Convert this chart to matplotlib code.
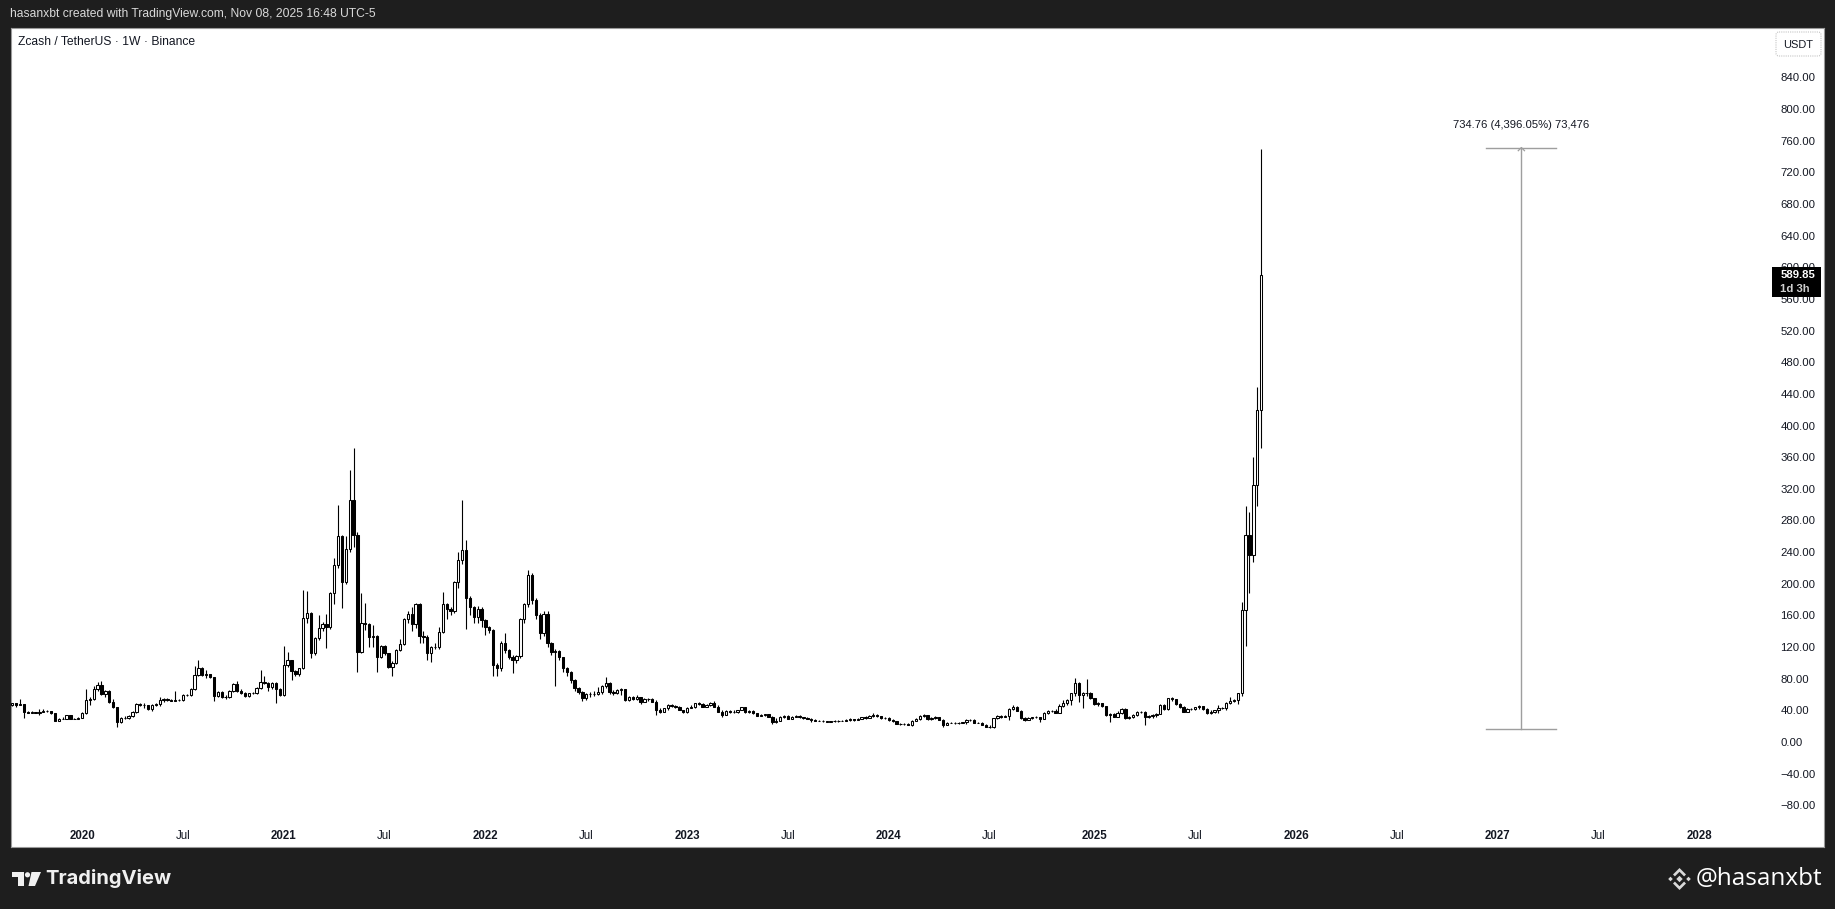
import numpy as np
import pandas as pd
import matplotlib
matplotlib.use("Agg")
import matplotlib.pyplot as plt
from matplotlib.patches import FancyBboxPatch, Polygon, Circle, Rectangle
import matplotlib.transforms as mtransforms

plt.rcParams['font.family'] = ['Liberation Sans', 'DejaVu Sans']

# ---------------- data (weekly ZEC/USDT, first candle week of 2019-09-02) ----------------
first_week = "2019-09-02"

opens = [
    46.5, 48.8, 47.0, 48.0, 38.3, 37.0, 37.5, 37.2, 37.9, 39.0,
    38.7, 36.2, 27.0, 29.0, 29.5, 33.7, 29.5, 29.5, 30.5, 36.2,
    52.6, 54.7, 66.5, 71.5, 60.6, 64.4, 50.1, 43.8, 25.7, 29.9,
    30.5, 32.8, 37.9, 47.6, 47.0, 46.3, 41.2, 46.3, 47.5, 52.6,
    53.9, 53.0, 52.2, 52.5, 53.0, 58.9, 59.3, 66.9, 84.2, 93.4,
    85.0, 85.9, 81.6, 58.1, 63.6, 56.8, 57.2, 64.4, 73.7, 65.0,
    62.3, 58.1, 61.9, 61.5, 68.6, 75.3, 75.0, 69.4, 74.5, 67.3,
    59.3, 96.8, 103.1, 90.1, 85.9, 93.0, 156.1, 162.5, 112.0, 130.9,
    143.5, 148.6, 144.8, 187.7, 223.5, 260.1, 202.4, 243.3, 305.6, 262.2,
    114.1, 149.8, 149.0, 133.0, 133.8, 107.7, 121.2, 112.0, 94.3, 100.2,
    116.2, 123.3, 155.3, 161.6, 148.6, 174.2, 133.5, 132.2, 112.0, 119.5,
    120.0, 139.3, 174.2, 167.5, 165.0, 201.6, 229.8, 242.4, 182.2, 170.0,
    158.2, 167.5, 154.0, 144.8, 141.5, 97.5, 93.0, 125.4, 116.5, 108.0,
    103.5, 108.6, 154.9, 173.8, 211.0, 180.0, 161.0, 137.2, 161.6, 124.6,
    114.1, 115.3, 106.9, 93.0, 88.5, 78.3, 68.0, 63.6, 55.1, 60.6,
    60.0, 60.6, 63.0, 70.7, 74.1, 63.5, 61.4, 65.7, 66.5, 53.0,
    57.2, 53.9, 56.4, 50.9, 54.3, 54.0, 50.9, 40.4, 38.3, 42.5,
    46.7, 45.9, 44.6, 40.4, 37.5, 43.3, 44.6, 48.8, 48.0, 44.6,
    46.7, 49.7, 44.6, 38.3, 34.1, 39.6, 37.5, 38.3, 40.4, 43.7,
    37.5, 39.6, 36.2, 33.2, 33.8, 34.9, 32.0, 24.8, 27.0, 32.0,
    33.2, 29.0, 32.0, 32.5, 31.0, 30.5, 29.5, 27.5, 27.0, 26.8,
    26.0, 25.5, 26.5, 26.0, 27.0, 26.5, 27.5, 28.5, 28.0, 29.5,
    31.0, 30.5, 32.5, 34.0, 32.5, 30.0, 30.5, 28.0, 26.5, 23.0,
    22.7, 23.0, 21.9, 26.9, 29.5, 32.8, 34.1, 28.6, 29.9, 31.1,
    27.8, 21.5, 24.4, 24.2, 23.6, 24.0, 24.8, 27.8, 27.5, 24.4,
    24.2, 21.5, 19.4, 18.5, 29.9, 32.8, 32.0, 32.5, 41.7, 44.6,
    39.6, 29.9, 27.8, 30.3, 31.1, 31.1, 29.5, 37.0, 39.6, 39.1,
    37.0, 45.5, 48.8, 53.0, 61.4, 74.1, 59.3, 61.4, 62.3, 55.1,
    48.0, 48.8, 45.5, 34.1, 35.4, 32.0, 37.0, 41.7, 29.9, 32.0,
    34.1, 38.3, 37.5, 31.1, 32.8, 33.5, 35.4, 46.7, 41.7, 55.1,
    53.9, 48.0, 43.8, 38.3, 41.7, 41.7, 43.8, 45.5, 41.7, 36.2,
    38.0, 40.4, 42.5, 42.5, 49.7, 52.2, 52.5, 61.4, 166.7, 261.4,
    236.1, 325.3, 419.2,
]

highs = [
    49.5, 49.2, 53.9, 48.2, 39.6, 38.5, 38.3, 41.2, 42.1, 40.4,
    39.2, 36.5, 30.0, 31.1, 34.0, 34.5, 30.5, 31.5, 37.5, 66.5,
    56.8, 70.7, 75.3, 77.0, 65.5, 65.5, 54.3, 44.5, 31.0, 32.8,
    34.0, 38.5, 48.8, 48.8, 49.7, 47.0, 47.5, 49.7, 56.4, 56.0,
    55.0, 54.0, 64.8, 54.5, 60.0, 60.5, 68.0, 96.0, 103.5, 95.0,
    90.9, 86.5, 82.0, 65.0, 64.5, 59.5, 65.5, 75.0, 77.4, 66.5,
    63.6, 62.5, 63.0, 69.5, 90.9, 83.0, 76.0, 75.5, 75.5, 68.0,
    121.2, 113.2, 104.0, 91.5, 94.0, 191.9, 190.7, 164.0, 133.0, 160.4,
    152.0, 161.6, 190.0, 232.7, 299.2, 262.0, 260.1, 344.3, 372.1, 265.0,
    187.7, 175.1, 151.0, 147.7, 135.0, 123.0, 123.0, 113.0, 102.0, 117.5,
    130.0, 157.0, 165.0, 170.0, 176.0, 176.0, 140.0, 135.0, 121.0, 125.0,
    145.0, 189.8, 176.0, 170.0, 203.0, 240.0, 305.6, 255.0, 185.0, 172.0,
    172.0, 170.0, 156.0, 146.0, 143.0, 100.0, 128.0, 137.2, 118.0, 110.0,
    110.0, 157.0, 176.0, 217.2, 214.0, 182.0, 163.0, 165.0, 165.0, 126.0,
    117.0, 116.0, 108.0, 95.0, 90.0, 80.0, 70.0, 65.0, 62.0, 63.0,
    64.0, 69.9, 72.0, 82.5, 76.0, 66.0, 67.0, 67.8, 67.0, 58.0,
    58.0, 59.0, 56.8, 56.0, 56.0, 56.0, 53.0, 43.0, 43.5, 48.0,
    48.0, 47.0, 45.5, 41.0, 44.0, 47.0, 49.5, 50.0, 49.0, 48.0,
    50.5, 51.8, 47.0, 40.0, 40.5, 40.5, 40.0, 41.0, 44.5, 44.5,
    40.5, 40.0, 36.8, 35.0, 35.5, 35.3, 32.5, 29.9, 32.5, 34.0,
    33.8, 32.8, 34.0, 33.5, 32.0, 31.0, 30.0, 28.5, 28.0, 27.5,
    26.8, 27.0, 27.5, 27.5, 27.5, 28.5, 30.5, 29.5, 30.5, 32.0,
    32.5, 33.5, 36.0, 35.0, 33.0, 31.5, 31.0, 29.0, 27.0, 24.0,
    24.0, 24.5, 27.5, 30.5, 33.5, 35.0, 34.5, 31.0, 32.5, 32.0,
    29.5, 25.5, 25.5, 25.0, 25.0, 25.8, 28.5, 29.0, 28.5, 25.5,
    24.8, 22.5, 21.5, 30.5, 33.5, 34.0, 34.0, 42.5, 46.7, 45.5,
    41.0, 31.8, 31.5, 32.0, 32.5, 31.5, 37.5, 40.5, 40.5, 41.5,
    47.5, 53.0, 54.0, 62.5, 80.4, 76.0, 63.0, 79.1, 63.0, 56.0,
    50.0, 49.5, 46.0, 36.5, 36.0, 38.5, 42.5, 42.5, 33.0, 35.0,
    39.0, 39.5, 39.0, 34.0, 35.0, 36.5, 47.5, 47.5, 56.0, 57.2,
    54.5, 49.5, 45.0, 42.5, 43.5, 44.5, 47.0, 46.0, 43.0, 41.0,
    41.0, 46.7, 44.0, 50.5, 56.4, 54.0, 62.5, 177.2, 298.0, 290.8,
    360.3, 449.0, 750.0,
]

lows = [
    46.0, 44.6, 46.5, 30.7, 36.5, 36.5, 36.4, 34.1, 37.5, 38.0,
    35.8, 26.5, 26.5, 28.5, 28.7, 29.0, 28.5, 29.0, 30.0, 35.5,
    47.1, 53.0, 65.0, 59.5, 57.2, 49.0, 43.0, 18.5, 24.0, 28.5,
    28.5, 32.0, 36.0, 45.5, 42.5, 40.5, 39.5, 45.5, 45.0, 51.0,
    51.5, 51.5, 51.5, 51.5, 51.5, 57.5, 58.0, 66.0, 83.0, 84.0,
    80.4, 80.5, 52.2, 57.0, 55.5, 54.0, 56.0, 63.5, 63.5, 61.0,
    56.5, 56.5, 60.0, 61.0, 67.5, 73.0, 64.4, 67.5, 48.8, 57.5,
    58.5, 95.0, 78.3, 84.0, 84.0, 92.0, 150.0, 105.6, 110.0, 129.0,
    140.0, 118.3, 143.0, 175.0, 220.0, 168.8, 200.0, 240.0, 246.6, 88.8,
    112.0, 141.4, 120.4, 120.4, 88.0, 106.0, 110.0, 93.0, 83.8, 99.0,
    115.0, 122.0, 150.0, 140.0, 144.0, 125.0, 125.0, 103.5, 101.4, 118.0,
    118.0, 138.0, 155.0, 160.0, 163.0, 195.0, 225.0, 142.7, 160.0, 150.0,
    150.0, 145.0, 135.0, 138.0, 83.8, 83.8, 90.0, 112.0, 105.0, 86.7,
    100.0, 106.0, 150.0, 170.0, 175.0, 155.0, 130.0, 134.0, 120.0, 110.0,
    71.1, 103.0, 88.0, 84.0, 75.0, 65.0, 60.0, 52.0, 53.0, 57.0,
    58.0, 59.0, 60.0, 68.0, 61.0, 59.0, 60.0, 59.5, 52.0, 52.0,
    52.5, 53.5, 48.0, 50.0, 52.0, 50.0, 34.1, 37.0, 37.5, 40.0,
    44.0, 42.5, 40.0, 36.5, 37.0, 42.5, 42.5, 46.5, 44.0, 44.0,
    45.0, 44.0, 37.5, 31.1, 33.5, 36.0, 36.5, 37.0, 40.0, 37.0,
    37.0, 35.5, 32.8, 32.5, 32.5, 31.5, 22.7, 24.5, 26.5, 30.5,
    28.5, 28.5, 31.0, 30.0, 29.5, 28.5, 25.5, 26.0, 26.0, 25.5,
    24.8, 25.0, 25.5, 25.5, 26.0, 26.0, 27.0, 27.0, 27.5, 29.0,
    29.5, 30.0, 31.5, 31.0, 29.0, 28.5, 26.0, 25.5, 22.5, 21.8,
    22.0, 21.5, 20.2, 26.0, 27.5, 31.5, 28.0, 28.0, 29.5, 27.5,
    19.4, 21.0, 23.5, 23.0, 23.0, 23.5, 23.2, 26.5, 24.0, 23.5,
    21.0, 18.8, 17.3, 18.0, 29.0, 30.5, 31.5, 27.8, 41.0, 39.0,
    29.5, 27.0, 27.5, 29.5, 30.0, 25.7, 29.0, 35.5, 38.0, 36.5,
    36.5, 44.0, 47.0, 47.0, 58.0, 50.9, 42.5, 57.5, 54.0, 47.0,
    46.0, 44.5, 33.0, 25.7, 31.5, 31.5, 35.5, 29.0, 29.5, 30.5,
    33.0, 36.0, 21.5, 30.5, 30.5, 31.5, 35.0, 40.5, 41.0, 52.0,
    47.0, 43.0, 37.5, 37.5, 40.5, 40.0, 42.0, 41.0, 35.5, 35.5,
    36.5, 36.5, 41.5, 40.0, 48.0, 51.0, 47.6, 58.0, 121.2, 188.6,
    227.7, 298.0, 371.6,
]

closes = [
    48.8, 47.0, 48.0, 38.3, 37.0, 37.5, 37.2, 37.9, 39.0, 38.7,
    36.2, 27.0, 29.0, 29.5, 33.7, 29.5, 29.5, 30.5, 36.2, 52.6,
    54.7, 66.5, 71.5, 60.6, 64.4, 50.1, 43.8, 25.7, 29.9, 30.5,
    32.8, 37.9, 47.6, 47.0, 46.3, 41.2, 46.3, 47.5, 52.6, 53.9,
    53.0, 52.2, 52.5, 53.0, 58.9, 59.3, 66.9, 84.2, 93.4, 85.0,
    85.9, 81.6, 58.1, 63.6, 56.8, 57.2, 64.4, 73.7, 65.0, 62.3,
    58.1, 61.9, 61.5, 68.6, 75.3, 75.0, 69.4, 74.5, 67.3, 59.3,
    96.8, 103.1, 90.1, 85.9, 93.0, 156.1, 162.5, 112.0, 130.9, 143.5,
    148.6, 144.8, 187.7, 223.5, 260.1, 202.4, 243.3, 305.6, 262.2, 114.1,
    149.8, 149.0, 133.0, 133.8, 107.7, 121.2, 112.0, 94.3, 100.2, 116.2,
    123.3, 155.3, 161.6, 148.6, 174.2, 133.5, 132.2, 112.0, 119.5, 120.0,
    139.3, 174.2, 167.5, 165.0, 201.6, 229.8, 242.4, 182.2, 170.0, 158.2,
    167.5, 154.0, 144.8, 141.5, 97.5, 93.0, 125.4, 116.5, 108.0, 103.5,
    108.6, 154.9, 173.8, 211.0, 180.0, 161.0, 137.2, 161.6, 124.6, 114.1,
    115.3, 106.9, 93.0, 88.5, 78.3, 68.0, 63.6, 55.1, 60.6, 60.0,
    60.6, 63.0, 70.7, 74.1, 63.5, 61.4, 65.7, 66.5, 53.0, 57.2,
    53.9, 56.4, 50.9, 54.3, 54.0, 50.9, 40.4, 38.3, 42.5, 46.7,
    45.9, 44.6, 40.4, 37.5, 43.3, 44.6, 48.8, 48.0, 44.6, 46.7,
    49.7, 44.6, 38.3, 34.1, 39.6, 37.5, 38.3, 40.4, 43.7, 37.5,
    39.6, 36.2, 33.2, 33.8, 34.9, 32.0, 24.8, 27.0, 32.0, 33.2,
    29.0, 32.0, 32.5, 31.0, 30.5, 29.5, 27.5, 27.0, 26.8, 26.0,
    25.5, 26.5, 26.0, 27.0, 26.5, 27.5, 28.5, 28.0, 29.5, 31.0,
    30.5, 32.5, 34.0, 32.5, 30.0, 30.5, 28.0, 26.5, 23.0, 22.7,
    23.0, 21.9, 26.9, 29.5, 32.8, 34.1, 28.6, 29.9, 31.1, 27.8,
    21.5, 24.4, 24.2, 23.6, 24.0, 24.8, 27.8, 27.5, 24.4, 24.2,
    21.5, 19.4, 18.5, 29.9, 32.8, 32.0, 32.5, 41.7, 44.6, 39.6,
    29.9, 27.8, 30.3, 31.1, 31.1, 29.5, 37.0, 39.6, 39.1, 37.0,
    45.5, 48.8, 53.0, 61.4, 74.1, 59.3, 61.4, 62.3, 55.1, 48.0,
    48.8, 45.5, 34.1, 35.4, 32.0, 37.0, 41.7, 29.9, 32.0, 34.1,
    38.3, 37.5, 31.1, 32.8, 33.5, 35.4, 46.7, 41.7, 55.1, 53.9,
    48.0, 43.8, 38.3, 41.7, 41.7, 43.8, 45.5, 41.7, 36.2, 38.0,
    40.4, 42.5, 42.5, 49.7, 52.2, 52.5, 61.4, 166.7, 261.4, 236.1,
    325.3, 419.2, 589.85,
]

x_tick_dates = ["2020-01-06", "2020-07-06", "2021-01-04", "2021-07-05", "2022-01-03",
                "2022-07-04", "2023-01-02", "2023-07-03", "2024-01-01", "2024-07-01",
                "2025-01-06", "2025-07-07", "2026-01-05", "2026-07-06", "2027-01-04",
                "2027-07-05", "2028-01-03"]
x_tick_labels = ["2020", "Jul", "2021", "Jul", "2022", "Jul", "2023", "Jul", "2024",
                 "Jul", "2025", "Jul", "2026", "Jul", "2027", "Jul", "2028"]
y_ticks = [-80, -40, 0, 40, 80, 120, 160, 200, 240, 280, 320, 360, 400, 440,
           480, 520, 560, 600, 640, 680, 720, 760, 800, 840]

last_price = 589.85
countdown = "1d 3h"
measure_from = 16.71
measure_to = 751.47
measure_text = "734.76 (4,396.05%) 73,476"
header_text = "hasanxbt created with TradingView.com, Nov 08, 2025 16:48 UTC-5"
title_text = "Zcash / TetherUS \u00b7 1W \u00b7 Binance"

# ---------------- layout ----------------
W, H = 1835, 909
BG = "#1e1e1e"
INK = "#131722"
fig = plt.figure(figsize=(W / 100, H / 100), dpi=100, facecolor=BG)

ax_l, ax_r, ax_t, ax_b = 10.7, 1823.5, 27.5, 847.0
ax = fig.add_axes([ax_l / W, 1 - ax_b / H, (ax_r - ax_l) / W, (ax_b - ax_t) / H])
ax.set_facecolor("white")
for s in ax.spines.values():
    s.set_color("#9a9a9a")
    s.set_linewidth(0.8)

o = np.array(opens)
hh = np.array(highs)
ll = np.array(lows)
c = np.array(closes)
xs = np.arange(len(c))
up = c >= o
bottoms = np.minimum(o, c)
heights = np.abs(c - o)

ax.vlines(xs, ll, hh, color="black", linewidth=0.8, zorder=2)
ax.bar(xs[up], heights[up], bottom=bottoms[up], width=0.6, facecolor="white",
       edgecolor="black", linewidth=0.75, zorder=3)
ax.bar(xs[~up], heights[~up], bottom=bottoms[~up], width=0.6, facecolor="black",
       edgecolor="black", linewidth=0.75, zorder=3)

ax.set_xlim(-0.41, 467.0)
ax.set_ylim(-132.8, 903.2)

# time axis
t0 = pd.Timestamp(first_week)
tick_pos = [(pd.Timestamp(d) - t0).days / 7.0 for d in x_tick_dates]
ax.set_xticks(tick_pos)
ax.set_xticklabels(x_tick_labels)
ax.tick_params(axis="x", length=0, pad=-12.5, labelsize=8.3, labelcolor=INK)
for lab in ax.get_xticklabels():
    if lab.get_text() != "Jul":
        lab.set_fontweight("bold")

# price axis
ax.yaxis.set_ticks_position("right")
ax.set_yticks(y_ticks)
ax.set_yticklabels([f"{v:.2f}".replace("-", "\u2212") for v in y_ticks])
ax.tick_params(axis="y", length=0, pad=-31, labelsize=8.2, labelcolor=INK)

# measurement tool
mx = 389.1
mw = 9.05
gcol = "#9e9e9e"
ax.plot([mx, mx], [measure_from, measure_to], color=gcol, lw=1.0, zorder=4)
ax.plot([mx - mw, mx + mw], [measure_to, measure_to], color=gcol, lw=1.0, zorder=4)
ax.plot([mx - mw, mx + mw], [measure_from, measure_from], color=gcol, lw=1.0, zorder=4)
ax.plot([mx - 0.8, mx, mx + 0.8], [measure_to - 4.0, measure_to, measure_to - 4.0],
        color=gcol, lw=0.9, zorder=4)
ax.text(mx, measure_to + 29, measure_text, ha="center", va="center",
        fontsize=8.1, color=INK, zorder=5)

# last price tag
bt = mtransforms.blended_transform_factory(ax.transAxes, ax.transData)
ax.add_patch(Rectangle((0.9716, 562.9), 0.0270, 38.0, transform=bt,
                       facecolor="black", edgecolor="none", zorder=10))
ax.text(0.9762, last_price, f"{last_price:.2f}", transform=bt, ha="left", va="center",
        fontsize=8.2, color="white", fontweight="bold", zorder=11)
ax.text(0.9762, last_price - 17.5, countdown, transform=bt, ha="left", va="center",
        fontsize=8.2, color="#cfcfcf", fontweight="bold", zorder=11)

# ---------------- overlay (header / footer / labels) ----------------
ov = fig.add_axes([0, 0, 1, 1], zorder=5)
ov.set_xlim(0, W)
ov.set_ylim(H, 0)
ov.axis("off")

ov.text(10, 13.5, header_text, color="#d9d9d9", fontsize=8.7, va="center", ha="left")
ov.text(18, 42, title_text, color=INK, fontsize=8.7, va="center", ha="left")

ov.add_patch(FancyBboxPatch((1776, 32), 45, 24, boxstyle="round,pad=0,rounding_size=3",
                            facecolor="white", edgecolor="#c4c4c4", linewidth=0.8,
                            linestyle=(0, (1, 1))))
ov.text(1798.5, 44.5, "USDT", color=INK, fontsize=7.9, ha="center", va="center")

# TradingView logo + wordmark
wc = "#f0f0f0"
ov.add_patch(Polygon([(12, 872), (24, 872), (24, 886), (18, 886), (18, 877), (12, 877)],
                     closed=True, facecolor=wc, edgecolor="none"))
ov.add_patch(Circle((27.5, 874.8), 2.6, facecolor=wc, edgecolor="none"))
ov.add_patch(Polygon([(31.5, 872), (41, 872), (35, 886), (28.5, 886)],
                     closed=True, facecolor=wc, edgecolor="none"))
ov.text(45, 879, "TradingView", color=wc, fontsize=14.5, fontweight="bold",
        family=["Inter", "DejaVu Sans"], va="center", ha="left")

# Binance-like mark + handle
bc = "#d9d9d9"
cx, cy = 1679.5, 879
ov.add_patch(Polygon([(cx, cy - 3.2), (cx + 3.2, cy), (cx, cy + 3.2), (cx - 3.2, cy)],
                     facecolor=bc, edgecolor="none"))
for dx in (-9, 9):
    ov.add_patch(Polygon([(cx + dx, cy - 2.3), (cx + dx + 2.3, cy), (cx + dx, cy + 2.3),
                          (cx + dx - 2.3, cy)], facecolor=bc, edgecolor="none"))
ov.add_patch(Polygon([(cx - 6.5, cy - 4.5), (cx, cy - 11), (cx + 6.5, cy - 4.5),
                      (cx + 4.6, cy - 2.6), (cx, cy - 7.2), (cx - 4.6, cy - 2.6)],
                     facecolor=bc, edgecolor="none"))
ov.add_patch(Polygon([(cx - 6.5, cy + 4.5), (cx, cy + 11), (cx + 6.5, cy + 4.5),
                      (cx + 4.6, cy + 2.6), (cx, cy + 7.2), (cx - 4.6, cy + 2.6)],
                     facecolor=bc, edgecolor="none"))
ov.text(1696, 879, "@hasanxbt", color="white", fontsize=17.5,
        family=["Open Sans", "DejaVu Sans"], va="center", ha="left")

fig.savefig("out.png", dpi=100, facecolor=BG)
